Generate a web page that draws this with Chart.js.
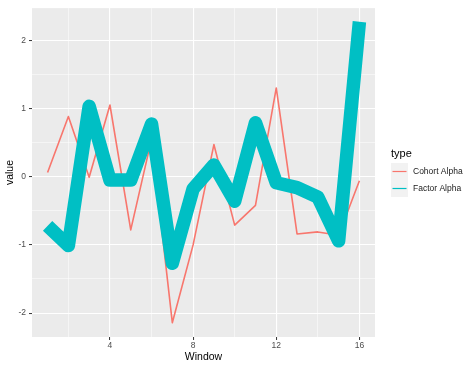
<!DOCTYPE html>
<html>
<head>
<meta charset="utf-8">
<script src="https://cdn.jsdelivr.net/npm/chart.js@4.4.1/dist/chart.umd.min.js"></script>
<style>
  html, body { margin: 0; padding: 0; background: #ffffff; }
  #wrap { width: 474px; height: 368px; }
</style>
</head>
<body>
<div id="wrap"><canvas id="chart" width="474" height="368"></canvas></div>
<script>
// data
var windows = [1, 2, 3, 4, 5, 6, 7, 8, 9, 10, 11, 12, 13, 14, 15, 16];
var cohortAlpha = [0.06, 0.88, -0.01, 1.05, -0.78, 0.55, -2.14, -1.0, 0.47, -0.71, -0.42, 1.30, -0.84, -0.81, -0.86, -0.06];
var factorAlpha = [-0.72, -1.01, 1.03, -0.05, -0.05, 0.77, -1.27, -0.18, 0.17, -0.36, 0.79, -0.09, -0.16, -0.30, -0.94, 2.27];
var xTicks = [2, 4, 6, 8, 10, 12, 14, 16];
var yTicks = [-2, -1.5, -1, -0.5, 0, 0.5, 1, 1.5, 2];
var seriesNames = ['Cohort Alpha', 'Factor Alpha'];
var seriesColors = ['#F8766D', '#00BFC4'];

var FONT = 'Liberation Sans, Arial, sans-serif';

var toPoints = function (vals) {
    return windows.map(function (w, i) { return { x: w, y: vals[i] }; });
};

var panelBg = {
    id: 'panelBg',
    beforeDraw: function (chart) {
        var a = chart.chartArea;
        var ctx = chart.ctx;
        ctx.save();
        ctx.fillStyle = '#EBEBEB';
        ctx.fillRect(a.left, a.top, a.right - a.left, a.bottom - a.top);
        ctx.restore();
    }
};

var ggLegend = {
    id: 'ggLegend',
    afterDraw: function (chart) {
        var ctx = chart.ctx;
        ctx.save();
        ctx.fillStyle = '#000000';
        ctx.font = '11px ' + FONT;
        ctx.textAlign = 'left';
        ctx.textBaseline = 'middle';
        ctx.fillText('type', 391, 154);
        for (var i = 0; i < seriesNames.length; i++) {
            var cy = 171.5 + i * 17;
            ctx.fillStyle = '#F2F2F2';
            ctx.fillRect(391, cy - 8.5, 17, 17);
            ctx.strokeStyle = seriesColors[i];
            ctx.lineWidth = 1.2;
            ctx.beginPath();
            ctx.moveTo(392.5, cy);
            ctx.lineTo(406.5, cy);
            ctx.stroke();
            ctx.fillStyle = '#1A1A1A';
            ctx.font = '8.5px ' + FONT;
            ctx.fillText(seriesNames[i], 413, cy);
        }
        ctx.restore();
    }
};

var ctx = document.getElementById('chart').getContext('2d');
new Chart(ctx, {
    type: 'line',
    data: {
        datasets: [
            {
                label: seriesNames[0],
                data: toPoints(cohortAlpha),
                borderColor: seriesColors[0],
                borderWidth: 1.6,
                pointRadius: 0,
                tension: 0,
                borderJoinStyle: 'round',
                borderCapStyle: 'butt',
                order: 1
            },
            {
                label: seriesNames[1],
                data: toPoints(factorAlpha),
                borderColor: seriesColors[1],
                borderWidth: 13.5,
                pointRadius: 0,
                tension: 0,
                borderJoinStyle: 'round',
                borderCapStyle: 'butt',
                order: 0
            }
        ]
    },
    options: {
        responsive: false,
        animation: false,
        devicePixelRatio: 1,
        layout: { padding: { top: 5, right: 99, left: 0, bottom: 0 } },
        plugins: {
            legend: { display: false },
            tooltip: { enabled: false }
        },
        scales: {
            x: {
                type: 'linear',
                min: 0.25,
                max: 16.75,
                afterBuildTicks: function (scale) {
                    scale.ticks = xTicks.map(function (v) { return { value: v }; });
                },
                afterFit: function (scale) { scale.height = 31; },
                border: { display: false },
                grid: {
                    color: '#FFFFFF',
                    lineWidth: function (c) { return c.tick && c.tick.value % 4 === 0 ? 1.1 : 0.5; },
                    tickLength: 3,
                    tickColor: function (c) { return c.tick && c.tick.value % 4 === 0 ? '#333333' : 'rgba(0,0,0,0)'; },
                    tickWidth: 1
                },
                ticks: {
                    autoSkip: false,
                    maxRotation: 0,
                    padding: 1,
                    color: '#4D4D4D',
                    font: { family: FONT, size: 8.5 },
                    callback: function (v) { return v % 4 === 0 ? String(v) : ''; }
                },
                title: {
                    display: true,
                    text: 'Window',
                    color: '#000000',
                    font: { family: FONT, size: 10.5 },
                    padding: { top: 0, bottom: 5 }
                }
            },
            y: {
                type: 'linear',
                min: -2.35,
                max: 2.47,
                afterBuildTicks: function (scale) {
                    scale.ticks = yTicks.map(function (v) { return { value: v }; });
                },
                afterFit: function (scale) { scale.width = 32; },
                border: { display: false },
                grid: {
                    color: '#FFFFFF',
                    lineWidth: function (c) { return c.tick && Number.isInteger(c.tick.value) ? 1.1 : 0.5; },
                    tickLength: 3,
                    tickColor: function (c) { return c.tick && Number.isInteger(c.tick.value) ? '#333333' : 'rgba(0,0,0,0)'; },
                    tickWidth: 1
                },
                ticks: {
                    autoSkip: false,
                    padding: 3,
                    color: '#4D4D4D',
                    font: { family: FONT, size: 8.5 },
                    callback: function (v) { return Number.isInteger(v) ? String(v) : ''; }
                },
                title: {
                    display: true,
                    text: 'value',
                    color: '#000000',
                    font: { family: FONT, size: 10.5 },
                    padding: { top: 4, bottom: 0 }
                }
            }
        }
    },
    plugins: [panelBg, ggLegend]
});
</script>
</body>
</html>
